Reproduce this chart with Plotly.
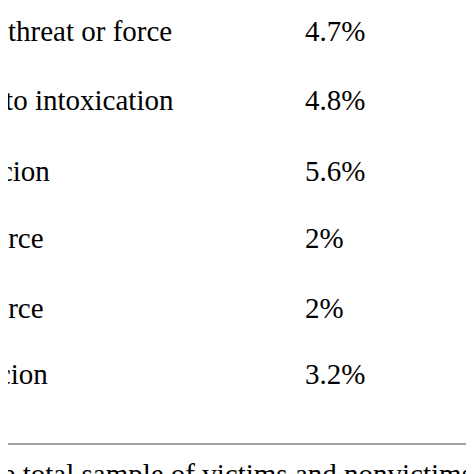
import plotly.graph_objects as go

# Row labels (left part is cut off by the image edge) and percentages
labels = ["threat or force", "due to intoxication", "coercion", "force", "force", "coercion"]
percents = ["4.7%", "4.8%", "5.6%", "2%", "2%", "3.2%"]
row_y = [15, 84, 155, 222, 292, 358]
label_end = [158, 160, 36, 30, 30, 34]
footnote = "the total sample of victims and nonvictims."

FONT = dict(family="Liberation Serif", size=29, color="black")

fig = go.Figure()
fig.add_trace(go.Scatter(x=[0, 474], y=[0, 474], mode="markers", marker=dict(opacity=0), hoverinfo="skip"))

for lab, pct, y, xe in zip(labels, percents, row_y, label_end):
    fig.add_annotation(x=xe, y=y, text=lab, xanchor="right", yanchor="middle", showarrow=False, font=FONT)
    fig.add_annotation(x=287, y=y, text=pct, xanchor="left", yanchor="middle", showarrow=False, font=FONT)

fig.add_shape(type="line", x0=-20, x1=500, y0=428, y1=428, line=dict(color="#444", width=1))
fig.add_annotation(x=466, y=458, text=footnote, xanchor="right", yanchor="middle", showarrow=False, font=FONT)

# page body has an 8px margin, so shift the axis ranges to compensate
fig.update_xaxes(range=[-8, 466], visible=False)
fig.update_yaxes(range=[466, -8], visible=False)
fig.update_layout(width=474, height=474, margin=dict(l=0, r=0, t=0, b=0),
                  paper_bgcolor="white", plot_bgcolor="white", showlegend=False)
fig.write_html("out.html")
